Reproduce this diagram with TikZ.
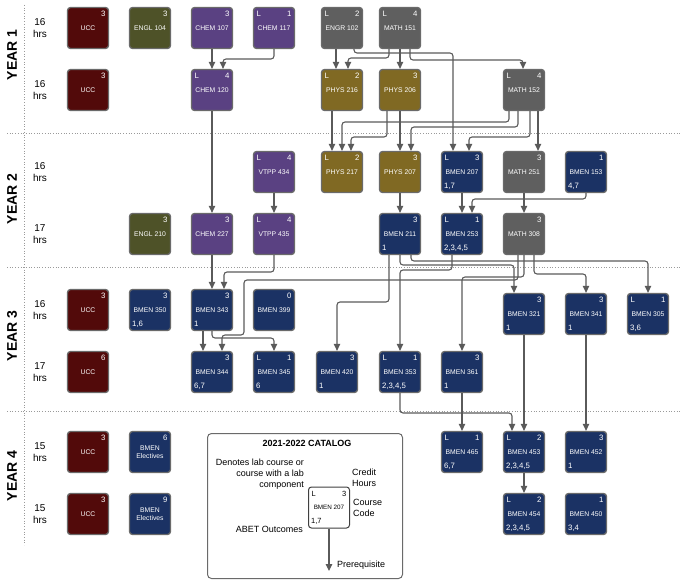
\documentclass[tikz,border=0pt]{standalone}
\usepackage{fontspec}
\setmainfont{Liberation Sans}
\usetikzlibrary{arrows.meta,calc}
\definecolor{uccc}{HTML}{520A0A}
\definecolor{olivec}{HTML}{4E5228}
\definecolor{purpc}{HTML}{5A4182}
\definecolor{grayc}{HTML}{5F5F5F}
\definecolor{goldc}{HTML}{806923}
\definecolor{navyc}{HTML}{1B3264}
\definecolor{bordc}{HTML}{6A6A6A}
\definecolor{connc}{HTML}{5A5A5A}
\definecolor{sepc}{HTML}{9A9A9A}
\newcommand\mkcourse[8]{%
  \node[cbox,fill=#4] (#1) at (#2,#3) {#5};
  \node[ctext,anchor=west] (#1-l) at ([xshift=3.5pt,yshift=-7pt]#1.north west) {#6};
  \node[ctext,anchor=east] (#1-c) at ([xshift=-3.5pt,yshift=-7pt]#1.north east) {#7};
  \node[ctext,anchor=west] (#1-a) at ([xshift=3pt,yshift=7pt]#1.south west) {#8};
}
\begin{document}
\begin{tikzpicture}[x=1pt,y=-1pt,
  cbox/.style={draw=bordc,line width=1.3pt,rounded corners=3pt,minimum width=41pt,minimum height=41pt,inner sep=0pt,text=white,font=\fontsize{6.8}{8.3}\selectfont,align=center},
  ctext/.style={inner sep=0pt,text=white,font=\fontsize{7.8}{9}\selectfont},
  conn/.style={draw=connc,line width=1.1pt,rounded corners=3pt,-{Triangle[length=7pt,width=6.5pt]}},
  sep/.style={draw=sepc,dotted,line width=0.7pt},
  hrs/.style={font=\fontsize{10}{12.5}\selectfont,align=center},
  year/.style={font=\bfseries\fontsize{14}{16}\selectfont,rotate=90},
  legtext/.style={font=\fontsize{9}{11}\selectfont,inner sep=0pt}
]
\useasboundingbox (0,0) rectangle (685,585);
% separators
\draw[sep] (7,133) -- (680,133);
\draw[sep] (7,267) -- (680,267);
\draw[sep] (7,411) -- (680,411);
\draw[sep] (24,5) -- (24,545);
% year labels
\node[year] (y1) at (12,55) {YEAR 1};
\node[year] (y2) at (12,199) {YEAR 2};
\node[year] (y3) at (12,336) {YEAR 3};
\node[year] (y4) at (12,476) {YEAR 4};
% hours
\node[hrs] (h1) at (40,28) {16\\hrs};
\node[hrs] (h2) at (40,90) {16\\hrs};
\node[hrs] (h3) at (40,172) {16\\hrs};
\node[hrs] (h4) at (40,234) {17\\hrs};
\node[hrs] (h5) at (40,310) {16\\hrs};
\node[hrs] (h6) at (40,372) {17\\hrs};
\node[hrs] (h7) at (40,452) {15\\hrs};
\node[hrs] (h8) at (40,514) {15\\hrs};
% row 1
\mkcourse{ucc1}{88}{28}{uccc}{UCC}{}{3}{}
\mkcourse{engl104}{150}{28}{olivec}{ENGL 104}{}{3}{}
\mkcourse{chem107}{212}{28}{purpc}{CHEM 107}{}{3}{}
\mkcourse{chem117}{274}{28}{purpc}{CHEM 117}{L}{1}{}
\mkcourse{engr102}{342}{28}{grayc}{ENGR 102}{L}{2}{}
\mkcourse{math151}{400}{28}{grayc}{MATH 151}{L}{4}{}
% row 2
\mkcourse{ucc2}{88}{90}{uccc}{UCC}{}{3}{}
\mkcourse{chem120}{212}{90}{purpc}{CHEM 120}{L}{4}{}
\mkcourse{phys216}{342}{90}{goldc}{PHYS 216}{L}{2}{}
\mkcourse{phys206}{400}{90}{goldc}{PHYS 206}{}{3}{}
\mkcourse{math152}{524}{90}{grayc}{MATH 152}{L}{4}{}
% row 3
\mkcourse{vtpp434}{274}{172}{purpc}{VTPP 434}{L}{4}{}
\mkcourse{phys217}{342}{172}{goldc}{PHYS 217}{L}{2}{}
\mkcourse{phys207}{400}{172}{goldc}{PHYS 207}{}{3}{}
\mkcourse{bmen207}{462}{172}{navyc}{BMEN 207}{L}{3}{1,7}
\mkcourse{math251}{524}{172}{grayc}{MATH 251}{}{3}{}
\mkcourse{bmen153}{586}{172}{navyc}{BMEN 153}{}{1}{4,7}
% row 4
\mkcourse{engl210}{150}{234}{olivec}{ENGL 210}{}{3}{}
\mkcourse{chem227}{212}{234}{purpc}{CHEM 227}{}{3}{}
\mkcourse{vtpp435}{274}{234}{purpc}{VTPP 435}{L}{4}{}
\mkcourse{bmen211}{400}{234}{navyc}{BMEN 211}{}{3}{1}
\mkcourse{bmen253}{462}{234}{navyc}{BMEN 253}{L}{1}{2,3,4,5}
\mkcourse{math308}{524}{234}{grayc}{MATH 308}{}{3}{}
% row 5
\mkcourse{ucc3}{88}{310}{uccc}{UCC}{}{3}{}
\mkcourse{bmen350}{150}{310}{navyc}{BMEN 350}{}{3}{1,6}
\mkcourse{bmen343}{212}{310}{navyc}{BMEN 343}{}{3}{1}
\mkcourse{bmen399}{274}{310}{navyc}{BMEN 399}{}{0}{}
\mkcourse{bmen321}{524}{314}{navyc}{BMEN 321}{}{3}{1}
\mkcourse{bmen341}{586}{314}{navyc}{BMEN 341}{}{3}{1}
\mkcourse{bmen305}{648}{314}{navyc}{BMEN 305}{L}{1}{3,6}
% row 6
\mkcourse{ucc4}{88}{372}{uccc}{UCC}{}{6}{}
\mkcourse{bmen344}{212}{372}{navyc}{BMEN 344}{}{3}{6,7}
\mkcourse{bmen345}{274}{372}{navyc}{BMEN 345}{L}{1}{6}
\mkcourse{bmen420}{337}{372}{navyc}{BMEN 420}{}{3}{1}
\mkcourse{bmen353}{400}{372}{navyc}{BMEN 353}{L}{1}{2,3,4,5}
\mkcourse{bmen361}{462}{372}{navyc}{BMEN 361}{}{3}{1}
% row 7
\mkcourse{ucc5}{88}{452}{uccc}{UCC}{}{3}{}
\mkcourse{elec1}{150}{452}{navyc}{BMEN\\Electives}{}{6}{}
\mkcourse{bmen465}{462}{452}{navyc}{BMEN 465}{L}{1}{6,7}
\mkcourse{bmen453}{524}{452}{navyc}{BMEN 453}{L}{2}{2,3,4,5}
\mkcourse{bmen452}{586}{452}{navyc}{BMEN 452}{}{3}{1}
% row 8
\mkcourse{ucc6}{88}{514}{uccc}{UCC}{}{3}{}
\mkcourse{elec2}{150}{514}{navyc}{BMEN\\Electives}{}{9}{}
\mkcourse{bmen454}{524}{514}{navyc}{BMEN 454}{L}{2}{2,3,4,5}
\mkcourse{bmen450}{586}{514}{navyc}{BMEN 450}{}{1}{3,4}
% connectors year 1
\draw[conn] (chem107.south) -- (chem120.north);
\draw[conn] (chem117.south) |- (250,59) -| ([xshift=11pt]chem120.north);
\draw[conn] ([xshift=-6pt]engr102.south) -- ([xshift=-6pt]phys216.north);
\draw[conn] ([xshift=-11pt]math151.south) |- (360,58) -| ([xshift=6pt]phys216.north);
\draw[conn] (math151.south) -- (phys206.north);
\draw[conn] ([xshift=12pt]engr102.south) |- (420,53) -| ([xshift=-9pt]bmen207.north);
\draw[conn] ([xshift=10pt]math151.south) |- (480,60) -| ([xshift=-1pt]math152.north);
% year 1 -> year 2
\draw[conn] (chem120.south) -- (chem227.north);
\draw[conn] ([xshift=-10pt]phys216.south) -- ([xshift=-10pt]phys217.north);
\draw[conn] ([xshift=-15pt]math152.south) |- (420,122) -| (phys217.north);
\draw[conn] ([xshift=-6pt]math152.south) |- (450,127) -| ([xshift=11pt]phys207.north);
\draw[conn] ([xshift=-13pt]phys206.south) |- (370,137) -| ([xshift=9pt]phys217.north);
\draw[conn] (phys206.south) -- (phys207.north);
\draw[conn] ([xshift=6pt]math152.south) |- (500,137) -| ([xshift=7pt]bmen207.north);
\draw[conn] ([xshift=14pt]math152.south) -- ([xshift=14pt]math251.north);
% year 2
\draw[conn] (vtpp434.south) -- (vtpp435.north);
\draw[conn] (phys207.south) -- (bmen211.north);
\draw[conn] (bmen207.south) -- (bmen253.north);
\draw[conn] (bmen153.south) |- (520,199) -| ([xshift=10pt]bmen253.north);
\draw[conn] (math251.south) -- (math308.north);
% year 2 -> year 3
\draw[conn] (chem227.south) -- (bmen343.north);
\draw[conn] (vtpp435.south) |- (250,272) -| ([xshift=12pt]bmen343.north);
\draw[conn] ([xshift=-11pt]bmen211.south) |- (360,302) -| (bmen420.north);
\draw[conn] (bmen211.south) |- (460,265) -| ([xshift=-10pt]bmen321.north);
\draw[conn] ([xshift=11pt]bmen211.south) |- (520,261) -| (bmen305.north);
\draw[conn] ([xshift=10pt]math308.south) |- (560,274) -| (bmen341.north);
\draw[conn] (math308.south) |- (490,277) -| (bmen361.north);
\draw[conn] ([xshift=-10pt]bmen253.south) |- (420,270) -| (bmen353.north);
\draw[conn] ([xshift=-6pt]math308.south) |- (244,280) |- (230,335) -| ([xshift=10pt]bmen344.north);
% year 3
\draw[conn] ([xshift=-9pt]bmen343.south) -- ([xshift=-9pt]bmen344.north);
\draw[conn] (bmen343.south) |- (240,338) -| (bmen345.north);
% year 3 -> year 4
\draw[conn] (bmen353.south) |- (460,413) -| ([xshift=-12pt]bmen453.north);
\draw[conn] (bmen361.south) -- (bmen465.north);
\draw[conn] (bmen321.south) -- (bmen453.north);
\draw[conn] (bmen341.south) -- (bmen452.north);
\draw[conn] (bmen453.south) -- (bmen454.north);
% legend
\node[draw=bordc,line width=1pt,rounded corners=4pt,minimum width=195pt,minimum height=145pt,inner sep=0pt] (legend) at (305,506) {};
\node[font=\bfseries\fontsize{9}{11}\selectfont,inner sep=0pt] (legtitle) at (307,443) {2021-2022 CATALOG};
\node[cbox,fill=white,draw=black!75,line width=1pt,text=black,font=\fontsize{6.3}{8}\selectfont] (sample) at (329,507.5) {BMEN 207};
\node[legtext,anchor=west,font=\fontsize{7.5}{9}\selectfont] (sample-l) at ([xshift=3.5pt,yshift=-7pt]sample.north west) {L};
\node[legtext,anchor=east,font=\fontsize{7.5}{9}\selectfont] (sample-c) at ([xshift=-3.5pt,yshift=-7pt]sample.north east) {3};
\node[legtext,anchor=west,font=\fontsize{7.5}{9}\selectfont] (sample-a) at ([xshift=3pt,yshift=7pt]sample.south west) {1,7};
\node[legtext,align=right,anchor=east] (labnote) at (304,474) {Denotes lab course or\\course with a lab\\component};
\node[legtext,align=left,anchor=west] (crnote) at (352,477.5) {Credit\\Hours};
\node[legtext,align=left,anchor=west] (codenote) at (353,508) {Course\\Code};
\node[legtext,anchor=east] (abetnote) at (303,529) {ABET Outcomes};
\coordinate (prereqend) at (329,571);
\draw[conn] (sample.south) -- (prereqend);
\node[legtext,anchor=west] (prereq) at (337,565) {Prerequisite};
\end{tikzpicture}
\end{document}
